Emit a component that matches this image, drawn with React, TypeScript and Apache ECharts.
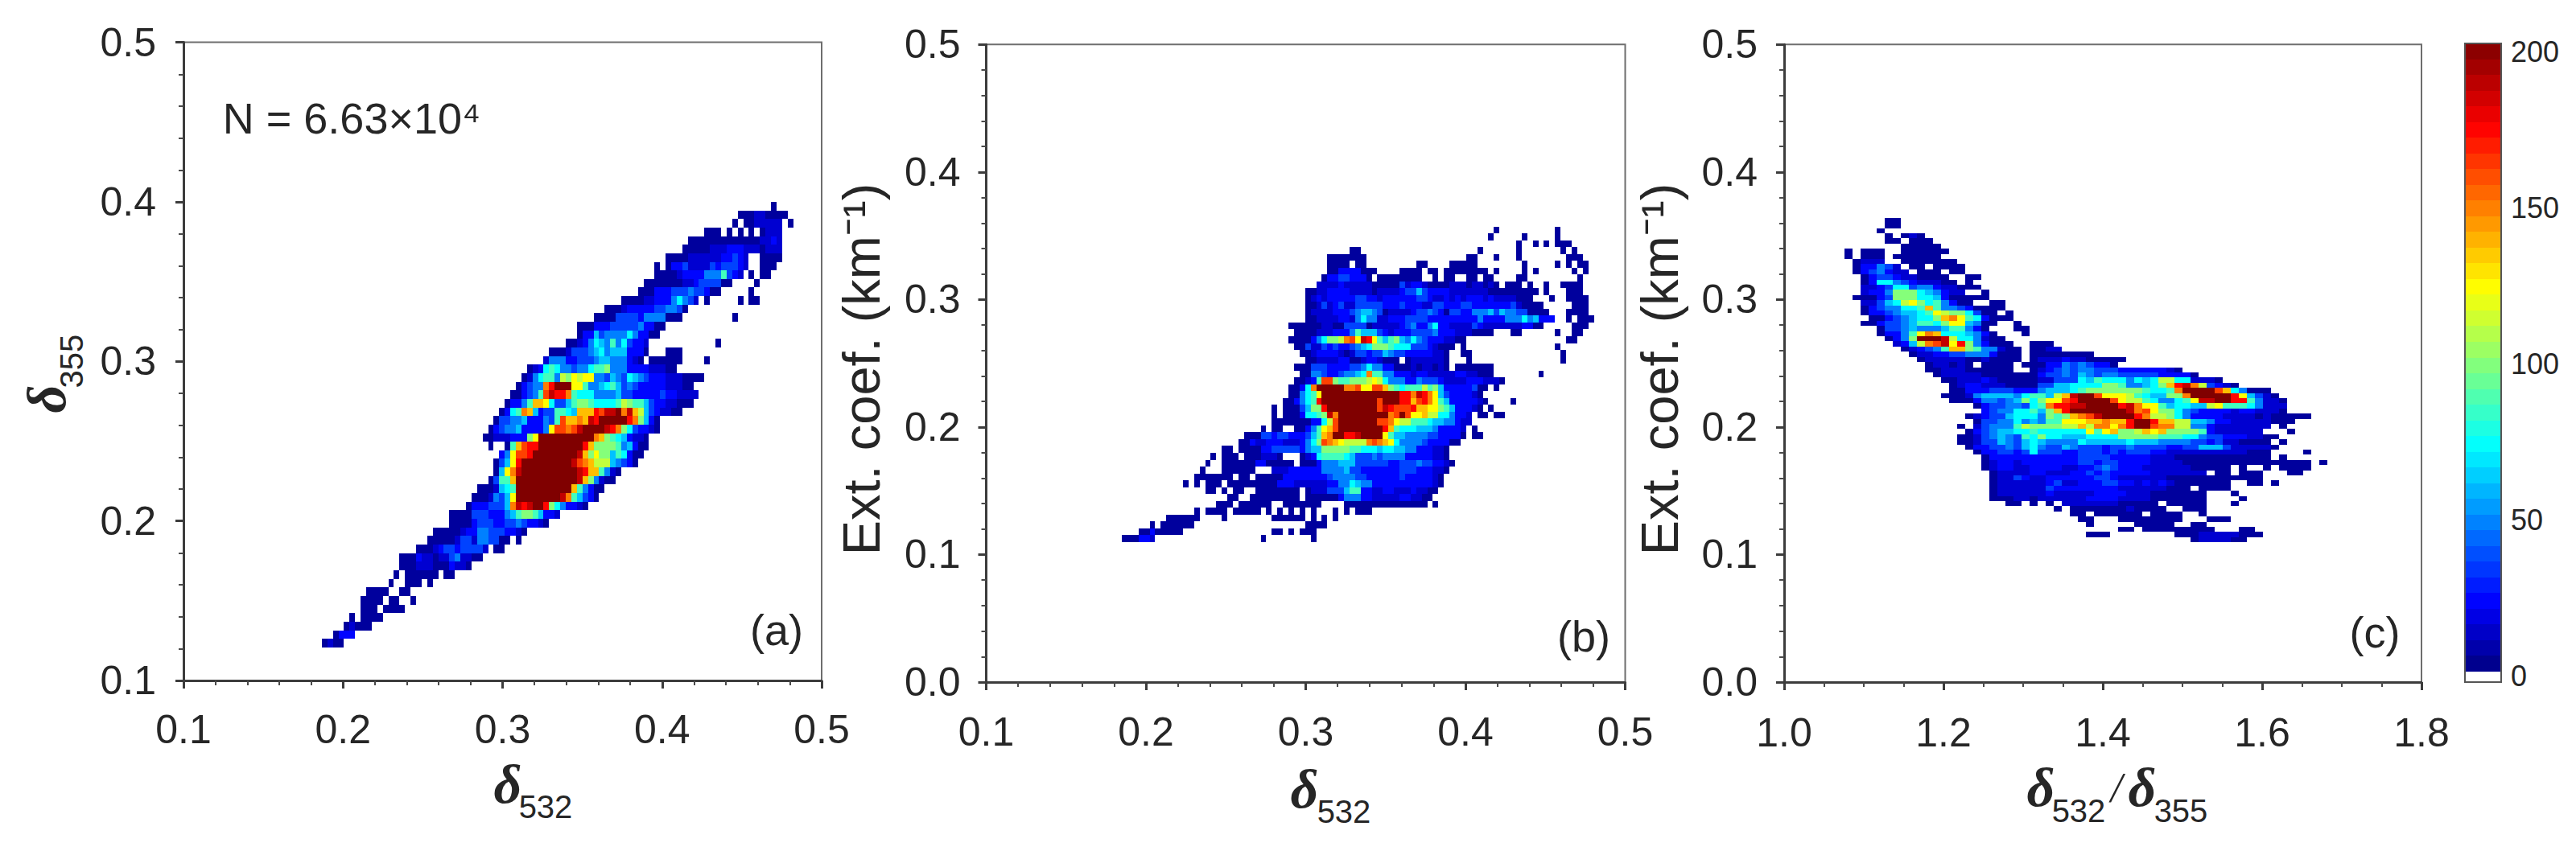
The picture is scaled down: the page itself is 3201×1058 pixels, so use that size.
import React, { useEffect, useRef } from "react";
import * as echarts from "echarts";

// value of each letter used in the row strings below ('.' = empty bin)
const levelValues: Record<string, number> = {
  a: 5, b: 14, c: 23, d: 35, e: 47, f: 60, g: 72, h: 85, i: 98, j: 110, k: 122,
  l: 135, m: 148, n: 160, o: 172, p: 186, q: 200,
};
const colorStops: [number, number[]][] = [
  [0, [0, 0, 128]], [22, [0, 0, 255]], [72, [0, 255, 255]],
  [122, [255, 255, 0]], [173, [255, 0, 0]], [200, [128, 0, 0]],
];
const colorbarBands = [0,5,10,15,20,25,30,35,40,45,50,55,60,65,70,75,80,85,90,95,100,105,110,115,120,125,130,135,140,145,150,155,160,165,170,175,180,185,190,195];

// bins: [first column, cells]; first row is the top one
const panelABins = { x0: 0.1832, dx: 0.003476, yTop: 0.4, dy: 0.00537 };
const panelARows: [number, string][] = [
  [82,"a"],
  [76,"aaabbaaaa"],
  [75,"a.aabbbbb.a"],
  [70,"aaa.a.a.a.abbb"],
  [67,"aaaaaaaaaaaaabbcb"],
  [66,"aaaaabbbcccbbbabbb"],
  [63,"aaaabbbbbbccdcb..aaaa"],
  [61,"a.accdbbbbdcdddcb..aaa"],
  [61,"aaaabcccceeehdcb.a.aa"],
  [59,"aaaaaaabbcddddaa....a"],
  [58,"aaacccdddeddcaa.....a"],
  [55,"aaaabbcccegedb.a.....a.aa"],
  [52,"aaabcccccddeeda"],
  [50,"aaaaddddceeeeaaa.........a"],
  [47,"aaacccdddddeccaa"],
  [47,"accfdeeeegeccaa"],
  [45,"aabcegfehegdccb............a"],
  [42,"aaabdddefgefffccca...aaa"],
  [41,"beeeccdddeffeeecba.aaaaaa....a"],
  [38,"abcghgeedeeghhieeeccccbbbaa"],
  [37,"abeghhejikjkkeedfedgfedcccbbbaaaa"],
  [36,"acdeemoqqqkkheefghfdedcccccbbbaa"],
  [35,"aacdehnpoomhgggeeeefddcccccdccbbbb"],
  [34,"accehllkgddfhiihgggghjihhfdccbbaaa"],
  [33,"acghmlfcddhhgflllonppqmpljfdcbbaa"],
  [32,"addeefcccedhnllmlpoqqqqqomifca"],
  [31,"acdeefcccceknnmnpqqqqpomigdccba"],
  [30,"aabbbcccikqqqqqqqqqqmlihgfcbba"],
  [31,"a..ahlnooqqqqqqqqoliiiihefcaa"],
  [33,"ceknnoqqqqqqqqplikiifhgcaa"],
  [32,"adfkoqqqqqqqqqpnmljjjfedca"],
  [32,"afkmpqqqqqqqqqqpollheba"],
  [31,"adhhlqqqqqqqqqqqpliebaa"],
  [29,"aaabfghqqqqqqqqqqlhecaa"],
  [28,"aaabedfkqqqqqqqqpmhfdca"],
  [27,"acccdddfmpopqqoigeccba"],
  [24,"aaaadddcccefhiihfccb"],
  [24,"aaaacdddccddedccba"],
  [21,"aaaaabcceedddccba"],
  [20,"aaaaabddbeeddaa.a"],
  [18,"aaabcddcddddb.aa"],
  [15,"aaacbbabbdebbaa"],
  [15,"aaabbbaaacbba"],
  [14,"a.aaaaaa.aa"],
  [13,"a..aaa.a"],
  [9,"aaaa..aa"],
  [8,"aaaa.aa..a"],
  [8,"aaa.aaaa"],
  [6,"a.aaaa"],
  [5,"abaaa"],
  [3,"accc"],
  [1,"abaa"],
];

const panelBBins = { x0: 0.1849, dx: 0.003476, yTop: 0.3573, dy: 0.00538 };
const panelBRows: [number, string][] = [
  [67,"a..........a"],
  [66,"a.....a.....a"],
  [71,"a..a.a.aaa"],
  [41,"aa.....................a......a.......a.a"],
  [37,"aaaaaaa..................aa...a...a........aaa"],
  [37,"aaaa.aa.........aa....aaaaa........a.....a.a.aa"],
  [37,"aaccccaaa....aaaa.aa.aaaaaaaa.a....a.a......a.a"],
  [36,"accddccca.aaaaaaaa..a.aa..aa.aa....aa.........a"],
  [35,"bbbbcbbbbbaaaaadbccbaaaabbbabbaba.aaa.a..a..aaaa"],
  [33,"aabbccccbbbbabbbbcddfdccccbbbbbbbaaaaaaaaa.a...aaa"],
  [33,"abcbcccccddccbccccccddcbbcbcbcccbcbbbbaaa...a..aaaa"],
  [33,"aabdbcdbbdddddcccdcccbbddcccddcccccccdbaaaa.....aaa"],
  [33,"abbbbcccdeffedabbbbcddedcaddcceeefdfeeddaaaa...aaaa"],
  [33,"aabbbbccbegeebbcccddddcccccccccecccceeegefccc..a.aaa"],
  [30,"aaaaaabbaaddddabbbbbcdeccegccbbbbdcbbbbbbbccaa.....aaa"],
  [31,"aaaabbbcccehfffdcbcccddddecccbbbaaaa...aa......a..aa"],
  [30,"aaaacegiijmnkpokhfhifegedcccbbaa..................aa"],
  [31,"aadbbdcdccdefgiiihgggdddcbaaa.a................a"],
  [32,"aabccccbabddcddfeddcccccbba..aa................a"],
  [33,"aabbbbccaabccbaaa.abbbbbba...a................a"],
  [31,"aaadddccccddegeeccaaababbaba.aaaaaaa"],
  [32,"aaeedccdeefgmhheecccbccbbbbbccbbaaa........a"],
  [31,"aabchnnihhiiijkjgeeecceddd" + "cbbbbcccbbba"],
  [30,"aacgmqqqqqmmnkknnlihghhhjhifcccccdaa.a"],
  [30,"aaeghkqqqqqqqqqqqqqqoompomkfdccccba"],
  [29,"aaceghoqqqqqqqqqqnqqqoolnomkhfcccccba....a"],
  [27,"a.aaadfiioqqqqqqqqqnponnnollkkihfcccba.a"],
  [27,"a.aaacgghipmqqqqqqqqqmnqnkkljjggeccb.aa.aa"],
  [27,"aaaaaaaccgjnqqqqqqqnnmkjjhhhgffeecbb"],
  [25,"a.aa..aacehklnqqqqqqqqolhgggfffeccccb.a"],
  [22,"aaaddcddcccdfhlmqqoopqqqqkhffeeeeddcccca.aa"],
  [21,"aacbbcccbbbceginmlkjjjjmnmlkgeeeedccccaa"],
  [18,"aa.aaaaccdddddceffiiiiihhgggfggffeecccbba"],
  [16,"a.aaa.aaabbba...abcghhhhgfdddedeeeecccccbba"],
  [15,"a..aaaaaaccaaaaa.aaaceeefffddddddccdddeddccba"],
  [14,"a...aaaaaa...bbbcccccceeeefddccc" + "ccccdddcccbba"],
  [13,"aaaaaaa.aa.aaaaacccccccc" + "deeeeddccc" + "cccdcccccba"],
  [11,"a.a.aaa.aaaaaaaaacccbbbbbbcceegfeecc" + "cccccccccba"],
  [15,"aa.a.aa..aaaaaaaa.abbbdddfhhccbb" + "ccbbbcbbaa"],
  [19,"aa..aaaaaaaaa.aaaaaaceeeccbb" + "bbbccbbaa"],
  [17,"aaa.aaaaaa..aaaaaaa....aaaaaa" + "aaaaaaaaa.a"],
  [13,"a.aaaa.aaaaa.a.a.a.a.a...a.a.aaa"],
  [8,"aaaaaa....a........aaaaaa.a.a.a"],
  [5,"a.aaaaaa....................aaaa"],
  [3,"aacaaaaa................aa.a.aaa"],
  [0,"aaaccb...................a........a"],
];

const panelCBins = { x0: 1.0755, dx: 0.0101, yTop: 0.3641, dy: 0.00404 };
const panelCRows: [number, string][] = [
  [5,"aa"],
  [5,"aa"],
  [4,"a"],
  [5,"a.aba"],
  [5,"aa.aaa"],
  [7,"aaaaa"],
  [0,"a.aaa..aaaaaa"],
  [0,"a.aaa.aaaaaa"],
  [1,"abbb..aaaaaaa"],
  [1,"accedb.aa.aaaa"],
  [1,"acdecbb.aaa.aa"],
  [2,"acddcbbaaaa..aa"],
  [2,"acggedcbbbaa.a"],
  [2,"bbcdggdeecbbaaa"],
  [2,"bcceiiigfecbb..a"],
  [1,"aaacdiiiggfcaaaaa"],
  [2,"bbdfgjkighecaa..aa"],
  [2,"acdeegghlheedcaaaa"],
  [2,"accdeffghkjiigdaa.a"],
  [3,"aacdefggilmkhgcaaa"],
  [2,"aacddefhhgikkfeaa..a"],
  [4,"addefeeefhheca...aa"],
  [4,"accehkmlgggfeca...a"],
  [5,"aceiqqqpjggebaa"],
  [6,"bcfjmnpkoiecaaa..aaa"],
  [7,"abcdehlliheebaa.aabb"],
  [8,"abbccddeeecaaa.aaaaaaaa"],
  [9,"abbbbbaabaaaa.abbbcbbaaaaa"],
  [10,"abbaba.aaaa.aaaccededcca"],
  [10,"aabbbaaaaaa..abcdedeedddccccccba"],
  [11,"abbbbbaaaaaaacddedfedeedddddcccca"],
  [12,"aabbbcbaaaaabbddd" + "gfhgggegfgjjggbbba"],
  [13,"abccbbbaaaaddffggggiiheefgilopmjdcba"],
  [13,"aacccdddcccefffghiiiiiiihgghmqqqqnlgeaaa"],
  [12,"aaabeffffeghhfjlpqqnkkkjhgffiimqqqqqokfdba"],
  [13,"aaaceedefigikknoqqqqnkjjhgeeghkppqqoohebba"],
  [16,"acddeedghmooppqqqqopmkkhfggffjkhhhgebbb"],
  [17,"cdeegghfiloqqqqqqqpmnkiigedccccbccbbba"],
  [15,"abcddfgggeihilmnpqqqqomjjigeccccbbbbabaaaaa"],
  [16,"addeegefehhkkkllmlloqqolljjffeccbbbbbaaa"],
  [14,"a.bdeeehjiiiijjljmmkmoqqnmmjjeecbbbbbbb.a"],
  [15,"acdeffgghggggggkhkliijlkliiiihcbbbbbb...a"],
  [14,"aabdefedhgiggfffggggiiiiihhhggeddcccbbaa"],
  [14,"aabddfedfgfeeeegfffffgfffeeeeddcdbbaaaa.a"],
  [15,"accddedfgeddfedddcddeddddccddfffdbbbbba"],
  [16,"accddcdgdddccdddcdcdddccbbbbbbbbbbaaa....a"],
  [17,"accccccccccc" + "ddddcccccbbbaaaaaaaaaaaa.a"],
  [17,"abccbccccccc" + "ddcddccccbbbbaaaaaaaaaaaaaaaa.a"],
  [17,"abccbbccccbbccdedcccbbbbbbaaaaa.a..a.aaaa"],
  [18,"abbbbccbbbccdcdcccccbbbbbbb.aa.aaa...aa"],
  [18,"abbdcbbccccccddcbbbbbbaaaaaaaaaaaa"],
  [18,"abbbbbbcdbbcccddccbcbcbaaaaaaa..aa.a"],
  [18,"abbbbbbdccccccccbbbbbbaaa.aaaa"],
  [18,"abbbbbbcbbbbbccccbbbaaaaaaa...a"],
  [18,"aaabbabbbbbbccccbbbbaaaaaaa....a"],
  [20,"aa.a.a.bbbbbbbaaaaa.aaaaa...a"],
  [26,"a.aaaaaaabaaaa..aaa"],
  [28,"aa.aaaaaa.aaaa..a"],
  [29,"aa...aaaaaaaa...aaa"],
  [30,"a.....aaaaa..aa"],
  [34,"aa.aaaaaaaaa...aa"],
  [30,"aaa........aaabbbbbaaa"],
  [43,"abbbbaa"],
];

const xTicksA = { min: 0.1, max: 0.5, interval: 0.1, minorSplit: 5 };
const yTicksA = { min: 0.1, max: 0.5, interval: 0.1, minorSplit: 5 };
const yTicksB = { min: 0, max: 0.5, interval: 0.1, minorSplit: 5 };
const xTicksC = { min: 1.0, max: 1.8, interval: 0.2, minorSplit: 4 };
const colorbarTicks = { min: 0, max: 200, interval: 50 };

const FONT = "'Liberation Sans', Arial, sans-serif";
const SERIF = "'Liberation Serif', 'Times New Roman', serif";
const INK = "#262626";

function jet(v: number): string {
  for (let i = 1; i < colorStops.length; i++) {
    const [v1, c1] = colorStops[i];
    const [v0, c0] = colorStops[i - 1];
    if (v <= v1) {
      const t = (v - v0) / (v1 - v0);
      const c = c0.map((a, k) => Math.round(a + (c1[k] - a) * t));
      return `rgb(${c[0]},${c[1]},${c[2]})`;
    }
  }
  return "rgb(128,0,0)";
}

function toCells(rows: [number, string][], bins: { x0: number; dx: number; yTop: number; dy: number }) {
  const out: number[][] = [];
  rows.forEach(([start, cells], r) => {
    for (let i = 0; i < cells.length; i++) {
      const v = levelValues[cells[i]];
      if (v !== undefined) out.push([bins.x0 + (start + i) * bins.dx, bins.yTop - r * bins.dy, v]);
    }
  });
  return out;
}

function cellSeries(index: number, data: number[][], dx: number, dy: number) {
  return {
    type: "custom",
    xAxisIndex: index,
    yAxisIndex: index,
    silent: true,
    encode: { x: 0, y: 1 },
    data,
    renderItem: (_p: any, api: any) => {
      const pt = api.coord([api.value(0), api.value(1)]);
      const size = api.size([dx, dy]);
      const x0 = Math.round(pt[0]);
      const y0 = Math.round(pt[1]);
      const x1 = Math.round(pt[0] + size[0]);
      const y1 = Math.round(pt[1] + size[1]);
      return {
        type: "rect",
        shape: { x: x0, y: y0, width: x1 - x0, height: y1 - y0 },
        style: { fill: jet(api.value(2)) },
      };
    },
  };
}

function axis(t: { min: number; max: number; interval: number; minorSplit: number }, gridIndex: number, margin: number, isY: boolean) {
  return {
    type: "value",
    gridIndex,
    min: t.min,
    max: t.max,
    interval: t.interval,
    splitLine: { show: false },
    axisLine: { show: true, onZero: false, lineStyle: { color: "#3c3c3c", width: 3 } },
    axisTick: { show: true, inside: false, length: 10, lineStyle: { color: "#3c3c3c", width: 3 } },
    minorTick: { show: true, splitNumber: t.minorSplit, length: 6, lineStyle: { color: "#4a4a4a", width: 2 } },
    axisLabel: {
      margin,
      color: INK,
      fontFamily: FONT,
      fontSize: 50,
      padding: isY ? [6, 0, 0, 0] : 0,
      formatter: (v: number) => v.toFixed(1),
    },
  };
}

function label(text: string, x: number, y: number, fontSize: number, extra: any = {}, rotation = 0) {
  return {
    type: "text",
    x,
    y,
    rotation,
    silent: true,
    style: {
      text,
      fontFamily: FONT,
      fontSize,
      fill: INK,
      align: "center",
      verticalAlign: "middle",
      ...extra,
    },
  };
}

const delta = { fontFamily: SERIF, fontWeight: "bold", fontStyle: "italic" };
const R = Math.PI / 2;

export default function App() {
  const ref = useRef<HTMLDivElement>(null);
  useEffect(() => {
    const chart = echarts.init(ref.current!, null, { renderer: "svg", width: 3201, height: 1058 });
    chart.setOption({
      animation: false,
      backgroundColor: "#fff",
      grid: [
        { left: 228, top: 52.6, width: 793, height: 793.4, show: true, borderColor: "#6e6e6e", borderWidth: 2, backgroundColor: "#fff" },
        { left: 1225.5, top: 55.3, width: 794, height: 792.7, show: true, borderColor: "#6e6e6e", borderWidth: 2, backgroundColor: "#fff" },
        { left: 2217, top: 55.3, width: 792, height: 792.7, show: true, borderColor: "#6e6e6e", borderWidth: 2, backgroundColor: "#fff" },
        { left: 3063, top: 54, width: 45, height: 781 },
        { left: 3063, top: 64, width: 45, height: 776 },
      ],
      xAxis: [
        axis(xTicksA, 0, 36, false),
        axis(xTicksA, 1, 37, false),
        axis(xTicksC, 2, 38, false),
        { type: "value", gridIndex: 3, min: 0, max: 1, show: false },
        { type: "value", gridIndex: 4, min: 0, max: 1, show: false },
      ],
      yAxis: [
        axis(yTicksA, 0, 34, true),
        axis(yTicksB, 1, 32, true),
        axis(yTicksB, 2, 33, true),
        { type: "value", gridIndex: 3, min: colorbarTicks.min, max: colorbarTicks.max, show: false },
        {
          type: "value",
          gridIndex: 4,
          position: "right",
          min: colorbarTicks.min,
          max: colorbarTicks.max,
          interval: colorbarTicks.interval,
          splitLine: { show: false },
          axisLine: { show: false },
          axisTick: { show: false },
          axisLabel: { margin: 12, color: INK, fontFamily: FONT, fontSize: 36 },
        },
      ],
      series: [
        cellSeries(0, toCells(panelARows, panelABins), panelABins.dx, panelABins.dy),
        cellSeries(1, toCells(panelBRows, panelBBins), panelBBins.dx, panelBBins.dy),
        cellSeries(2, toCells(panelCRows, panelCBins), panelCBins.dx, panelCBins.dy),
        {
          type: "custom",
          xAxisIndex: 3,
          yAxisIndex: 3,
          silent: true,
          encode: { y: 0 },
          data: colorbarBands.map((v) => [v]),
          renderItem: (_p: any, api: any) => {
            const v = api.value(0);
            const bottom = api.coord([0, v]);
            const top = api.coord([1, v + 5]);
            const y0 = Math.round(top[1]);
            const y1 = Math.round(bottom[1]);
            return {
              type: "rect",
              shape: { x: bottom[0], y: y0, width: top[0] - bottom[0], height: y1 - y0 },
              style: { fill: jet(v + 2.5) },
            };
          },
        },
      ],
      graphic: [
        { type: "rect", silent: true, z: 100, shape: { x: 3063, y: 54, width: 45, height: 794 }, style: { fill: "none", stroke: "#555", lineWidth: 2 } },
        label("N = 6.63×10⁴", 437, 147, 54),
        label("(a)", 965, 783, 54),
        label("(b)", 1968, 791, 54),
        label("(c)", 2951, 786, 54),
        label("δ", 631, 975, 68, delta),
        label("532", 678, 1003, 40),
        label("δ", 1621, 981, 68, delta),
        label("532", 1670, 1009, 40),
        label("δ", 2536, 979, 68, delta),
        label("532", 2583, 1008, 40),
        label("/", 2630, 979, 52, { fontFamily: SERIF, fontStyle: "italic" }),
        label("δ", 2662, 979, 68, delta),
        label("355", 2710, 1008, 40),
        label("δ", 58, 496, 68, delta, R),
        label("355", 89, 449, 40, {}, R),
        label("Ext. coef. (km⁻¹)", 1070, 459, 65, {}, R),
        label("Ext. coef. (km⁻¹)", 2062, 459, 65, {}, R),
      ],
    });
    return () => chart.dispose();
  }, []);
  return <div ref={ref} style={{ position: "absolute", left: 0, top: 0, width: 3201, height: 1058, background: "#fff" }} />;
}
